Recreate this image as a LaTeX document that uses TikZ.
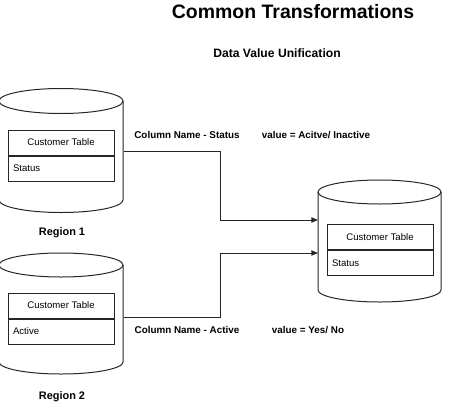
\documentclass[tikz,border=0pt]{standalone}
\usepackage{fontspec}
\setmainfont{Liberation Sans}
\usetikzlibrary{arrows.meta,calc}
\begin{document}
\begin{tikzpicture}[x=0.75pt,y=-0.75pt,line width=0.75pt,
  cylline/.style={draw=black!85},
  hdr/.style={draw=black!85,minimum width=79.5pt,minimum height=18.75pt,inner sep=0pt,font=\fontsize{7.2pt}{8pt}\selectfont},
  rowbox/.style={draw=black!85,minimum height=18.75pt,text width=72pt,inner xsep=3.75pt,inner ysep=0pt,align=left,font=\fontsize{7.2pt}{8pt}\selectfont},
  lbl/.style={font=\bfseries\fontsize{7.4pt}{9pt}\selectfont,anchor=base,inner sep=0pt},
  reg/.style={font=\bfseries\fontsize{8.2pt}{10pt}\selectfont,anchor=base,inner sep=0pt},
  conn/.style={draw=black!85,-{Triangle[length=5pt,width=4pt]}}]
\useasboundingbox (0,0) rectangle (474,407);

% titles
\node[font=\bfseries\fontsize{14.6pt}{17pt}\selectfont,inner sep=0pt] (title) at (293,12) {Common Transformations};
\node[font=\bfseries\fontsize{9.1pt}{11pt}\selectfont,inner sep=0pt] (sub) at (277,53) {Data Value Unification};

% cylinder A
\draw[cylline] (61,101) ellipse [x radius=46.5pt, y radius=9.375pt];
\draw[cylline] (-1,101) -- (-1,200) arc[start angle=180,end angle=360,x radius=46.5pt,y radius=9.375pt] -- (123,101);
\node[minimum width=93pt,minimum height=74pt,inner sep=0pt] (cylA) at (61,151) {};
\node[hdr] (tA) at (61,142.5) {Customer Table};
\node[rowbox,anchor=north] (rA) at (tA.south) {Status};
\node[reg] (regA) at (62,235.5) {Region 1};

% cylinder B
\draw[cylline] (61,265) ellipse [x radius=46.5pt, y radius=9pt];
\draw[cylline] (-1,265) -- (-1,362) arc[start angle=180,end angle=360,x radius=46.5pt,y radius=9pt] -- (123,265);
\node[minimum width=93pt,minimum height=72pt,inner sep=0pt] (cylB) at (61,317) {};
\node[hdr] (tB) at (61,305.5) {Customer Table};
\node[rowbox,anchor=north] (rB) at (tB.south) {Active};
\node[reg] (regB) at (62,399.5) {Region 2};

% cylinder C
\draw[cylline] (379.5,192) ellipse [x radius=46.125pt, y radius=9pt];
\draw[cylline] (318,192) -- (318,290) arc[start angle=180,end angle=360,x radius=46.125pt,y radius=9pt] -- (441,192);
\coordinate (inC1) at (318,220);
\coordinate (inC2) at (318,253);
\node[hdr] (tC) at (380,237) {Customer Table};
\node[rowbox,anchor=north] (rC) at (tC.south) {Status};

% labels
\node[lbl] (l1) at (187,138) {Column Name - Status};
\node[lbl] (v1) at (316,138) {value = Acitve/ Inactive};
\node[lbl] (l2) at (187,333) {Column Name - Active};
\node[lbl] (v2) at (308,333) {value = Yes/ No};

% connectors
\coordinate (bx) at (220,0);
\draw[conn] (cylA.east) -- (cylA.east -| bx) -- (bx |- inC1) -- (inC1);
\draw[conn] (cylB.east) -- (cylB.east -| bx) -- (bx |- inC2) -- (inC2);
\end{tikzpicture}
\end{document}
